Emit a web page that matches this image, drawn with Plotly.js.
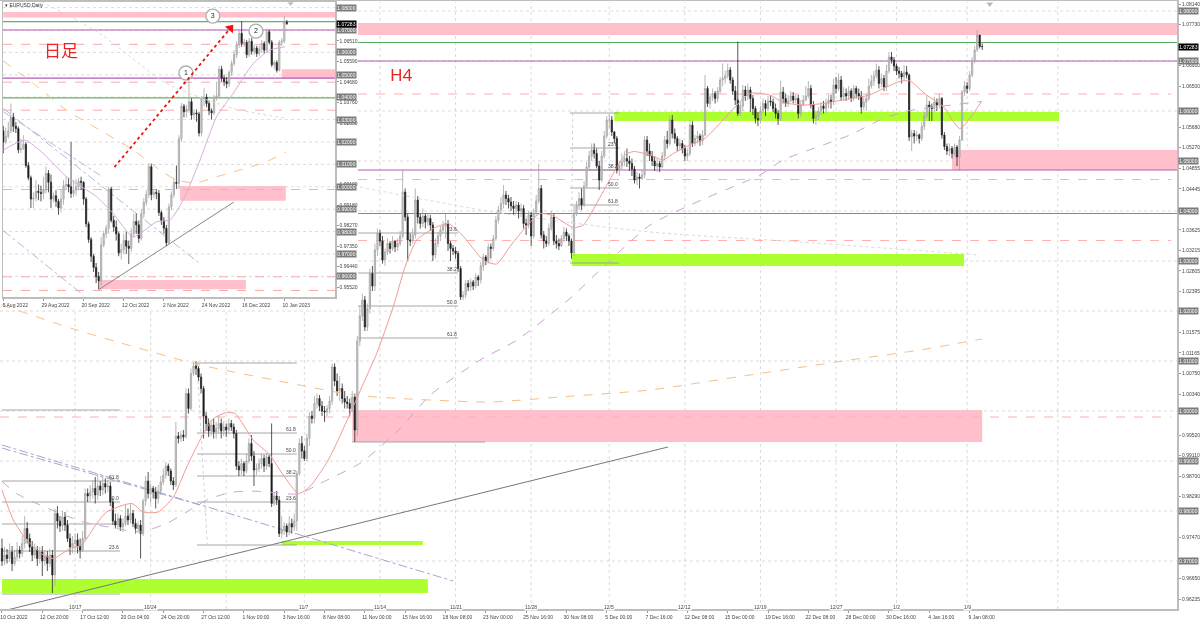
<!DOCTYPE html>
<html><head><meta charset="utf-8">
<script src="https://cdn.plot.ly/plotly-3.0.1.min.js"></script>
<style>html,body{margin:0;padding:0;background:#fff}#g{width:1200px;height:619px;filter:blur(0.35px)}</style></head>
<body><div id="g"></div>
<script>
// ---- H4 candles (prices in 1/10000) ----
const h4Close=[9700,9712,9705,9718,9695,9708,9722,9715,9735,9765,
9745,9728,9712,9722,9705,9718,9700,9710,9695,9712,
9672,9795,9780,9770,9788,9772,9745,9728,9735,9742,
9730,9722,9745,9835,9830,9838,9845,9832,9850,9842,
9855,9848,9850,9818,9780,9772,9785,9768,9775,9790,
9782,9795,9775,9765,9772,9755,9820,9860,9835,9845,
9838,9825,9840,9858,9872,9890,9880,9860,9852,9950,
9945,9952,9948,10035,10005,10075,10090,10085,10068,10045,
9990,9975,9960,9972,9958,9965,9975,9960,9968,9962,
9975,9968,9955,9890,9882,9895,9880,9900,9935,9910,
9882,9885,9895,9905,9890,9908,9895,9815,9830,9822,
9755,9762,9770,9758,9775,9768,9780,9875,9935,9920,
9905,9945,9990,9985,10015,10025,10010,10000,9998,10005,
10020,10088,10060,10040,10045,10025,10018,10015,10005,10028,
9962,10140,10190,10222,10168,10205,10275,10250,10322,10355,
10340,10302,10318,10335,10325,10340,10328,10335,10350,10438,
10388,10342,10340,10352,10422,10388,10375,10390,10378,10385,
10372,10312,10335,10350,10362,10370,10375,10335,10325,10320,
10315,10285,10228,10232,10255,10248,10258,10250,10268,10262,
10290,10308,10300,10328,10325,10345,10382,10402,10415,10432,
10425,10418,10410,10405,10412,10400,10405,10375,10372,10392,
10350,10395,10420,10445,10352,10340,10335,10365,10388,10340,
10335,10330,10345,10358,10350,10340,10316,10395,10410,10425,
10412,10450,10488,10510,10522,10515,10490,10462,10510,10550,
10582,10582,10558,10545,10482,10490,10498,10505,10500,10495,
10484,10462,10468,10465,10472,10542,10520,10510,10500,10490,
10495,10488,10510,10542,10535,10582,10555,10545,10530,10535,
10525,10510,10515,10572,10535,10545,10550,10540,10552,10645,
10615,10628,10635,10625,10640,10662,10665,10670,10682,10662,
10640,10622,10595,10610,10642,10630,10642,10625,10605,10585,
10582,10600,10615,10605,10620,10618,10605,10595,10585,10638,
10625,10615,10620,10630,10622,10625,10595,10612,10622,10630,
10645,10612,10585,10590,10600,10610,10605,10615,10622,10618,
10652,10645,10662,10628,10635,10630,10640,10625,10645,10635,
10630,10608,10618,10625,10650,10660,10670,10682,10655,10665,
10648,10680,10708,10702,10690,10680,10675,10668,10678,10672,
10548,10555,10550,10552,10545,10569,10590,10612,10608,10605,
10618,10612,10625,10552,10529,10520,10525,10515,10528,10508,
10542,10638,10650,10645,10672,10700,10722,10752,10729,10729];
const h4Open=[9725,9700,9712,9705,9718,9695,9708,9722,9715,9735,
9765,9745,9728,9712,9722,9705,9718,9700,9710,9695,
9712,9672,9795,9780,9770,9788,9772,9745,9728,9735,
9742,9730,9722,9745,9835,9830,9838,9845,9832,9850,
9842,9855,9848,9850,9818,9780,9772,9785,9768,9775,
9790,9782,9795,9775,9765,9772,9755,9820,9860,9835,
9845,9838,9825,9840,9858,9872,9890,9880,9860,9852,
9950,9945,9952,9948,10035,10005,10075,10090,10085,10068,
10045,9990,9975,9960,9972,9958,9965,9975,9960,9968,
9962,9975,9968,9955,9890,9882,9895,9880,9900,9935,
9910,9882,9885,9895,9905,9890,9908,9895,9815,9830,
9822,9755,9762,9770,9758,9775,9768,9780,9875,9935,
9920,9905,9945,9990,9985,10015,10025,10010,10000,9998,
10005,10020,10088,10060,10040,10045,10025,10018,10015,10005,
10028,9962,10140,10190,10222,10168,10205,10275,10250,10322,
10355,10340,10302,10318,10335,10325,10340,10328,10335,10350,
10438,10388,10342,10340,10352,10422,10388,10375,10390,10378,
10385,10372,10312,10335,10350,10362,10370,10375,10335,10325,
10320,10315,10285,10228,10232,10255,10248,10258,10250,10268,
10262,10290,10308,10300,10328,10325,10345,10382,10402,10415,
10432,10425,10418,10410,10405,10412,10400,10405,10375,10372,
10392,10350,10395,10420,10445,10352,10340,10335,10365,10388,
10340,10335,10330,10345,10358,10350,10340,10316,10395,10410,
10425,10412,10450,10488,10510,10522,10515,10490,10462,10510,
10550,10582,10582,10558,10545,10482,10490,10498,10505,10500,
10495,10484,10462,10468,10465,10472,10542,10520,10510,10500,
10490,10495,10488,10510,10542,10535,10582,10555,10545,10530,
10535,10525,10510,10515,10572,10535,10545,10550,10540,10552,
10645,10615,10628,10635,10625,10640,10662,10665,10670,10682,
10662,10640,10622,10595,10610,10642,10630,10642,10625,10605,
10585,10582,10600,10615,10605,10620,10618,10605,10595,10585,
10638,10625,10615,10620,10630,10622,10625,10595,10612,10622,
10630,10645,10612,10585,10590,10600,10610,10605,10615,10622,
10618,10652,10645,10662,10628,10635,10630,10640,10625,10645,
10635,10630,10608,10618,10625,10650,10660,10670,10682,10655,
10665,10648,10680,10708,10702,10690,10680,10675,10668,10678,
10672,10548,10555,10550,10552,10545,10569,10590,10612,10608,
10605,10618,10612,10625,10552,10529,10520,10525,10515,10528,
10508,10542,10638,10650,10645,10672,10700,10722,10752,10729];
const h4High=[9745,9728,9724,9735,9730,9722,9738,9730,9750,9790,
9778,9755,9740,9735,9730,9728,9730,9722,9720,9725,
9722,9805,9810,9790,9800,9798,9782,9755,9750,9755,
9755,9745,9760,9845,9845,9852,9862,9868,9875,9860,
9872,9865,9862,9858,9825,9795,9795,9792,9785,9812,
9805,9815,9802,9785,9780,9782,9825,9870,9878,9855,
9850,9848,9852,9870,9885,9898,9895,9885,9868,9978,
9958,9960,9962,10045,10045,10085,10098,10100,10090,10075,
10050,9998,9985,9982,9985,9978,9990,9985,9980,9975,
9985,9982,9975,9962,9900,9905,9900,9915,9945,9952,
9920,9895,9905,9915,9912,9915,9912,9975,9838,9840,
9830,9790,9778,9775,9790,9785,9795,9880,9945,9950,
9930,9955,9998,10000,10030,10035,10032,10020,10010,10012,
10030,10095,10095,10075,10070,10055,10040,10030,10025,10040,
10035,10150,10210,10235,10230,10215,10285,10290,10335,10365,
10362,10350,10325,10345,10340,10350,10340,10345,10360,10482,
10445,10395,10355,10365,10445,10430,10395,10405,10395,10395,
10392,10378,10345,10358,10370,10380,10395,10382,10340,10332,
10328,10320,10290,10240,10262,10262,10265,10262,10275,10272,
10298,10315,10312,10335,10335,10352,10390,10410,10428,10452,
10440,10432,10428,10420,10420,10418,10415,10412,10385,10400,
10398,10405,10432,10495,10452,10360,10350,10375,10400,10395,
10352,10345,10352,10368,10365,10355,10345,10410,10420,10438,
10445,10460,10498,10520,10535,10535,10525,10500,10520,10560,
10590,10595,10590,10560,10550,10500,10515,10520,10525,10510,
10505,10490,10478,10475,10482,10550,10550,10535,10520,10510,
10505,10500,10518,10550,10560,10590,10592,10565,10550,10545,
10542,10532,10525,10582,10580,10552,10560,10555,10562,10672,
10650,10635,10645,10640,10648,10668,10695,10680,10695,10688,
10668,10650,10739,10620,10652,10650,10655,10648,10632,10610,
10598,10610,10625,10622,10630,10632,10625,10615,10602,10660,
10648,10635,10632,10640,10638,10632,10632,10622,10632,10650,
10660,10652,10620,10600,10608,10618,10620,10625,10632,10632,
10665,10668,10675,10670,10648,10645,10650,10645,10652,10650,
10645,10640,10628,10635,10665,10672,10680,10695,10690,10675,
10672,10692,10718,10718,10708,10695,10688,10680,10692,10690,
10675,10562,10562,10560,10555,10578,10598,10632,10620,10615,
10628,10625,10635,10628,10558,10535,10535,10530,10535,10532,
10550,10642,10660,10658,10680,10708,10730,10762,10752,10735];
const h4Low=[9690,9692,9695,9698,9680,9690,9700,9705,9708,9725,
9735,9718,9700,9705,9690,9695,9670,9690,9680,9688,
9636,9650,9765,9758,9760,9760,9738,9712,9715,9722,
9715,9705,9718,9740,9818,9820,9825,9815,9822,9830,
9832,9835,9838,9810,9772,9765,9765,9760,9758,9770,
9772,9775,9768,9755,9758,9705,9750,9810,9825,9815,
9825,9805,9815,9832,9852,9865,9870,9852,9842,9848,
9935,9938,9940,9945,9995,10000,10070,10072,10060,10035,
9945,9960,9948,9950,9945,9945,9955,9945,9950,9948,
9955,9960,9945,9882,9870,9872,9870,9875,9895,9900,
9850,9872,9878,9885,9878,9882,9888,9808,9810,9812,
9748,9745,9752,9748,9752,9755,9760,9760,9870,9905,
9900,9900,9930,9975,9975,10005,10000,9990,9978,9990,
9995,10012,10050,10030,10020,10015,10005,10005,9990,9998,
9938,9950,10130,10180,10160,10160,10195,10240,10240,10310,
10330,10295,10290,10312,10315,10320,10318,10320,10330,10345,
10380,10300,10330,10335,10345,10375,10365,10368,10365,10370,
10360,10300,10305,10328,10340,10355,10345,10320,10300,10312,
10305,10278,10222,10222,10225,10240,10240,10242,10245,10250,
10255,10280,10292,10295,10305,10320,10340,10375,10395,10405,
10412,10405,10400,10392,10395,10385,10388,10365,10352,10365,
10330,10345,10390,10415,10345,10325,10328,10330,10360,10332,
10325,10322,10328,10338,10340,10330,10305,10310,10390,10402,
10402,10408,10445,10480,10500,10505,10485,10442,10458,10505,
10545,10565,10550,10535,10475,10470,10482,10490,10488,10480,
10470,10455,10452,10445,10462,10465,10510,10500,10490,10480,
10478,10478,10485,10502,10525,10530,10545,10535,10520,10522,
10515,10500,10500,10510,10528,10530,10535,10530,10532,10550,
10608,10605,10620,10615,10618,10635,10650,10655,10665,10655,
10632,10612,10590,10590,10600,10620,10622,10598,10592,10575,
10570,10575,10595,10590,10600,10610,10598,10585,10572,10580,
10615,10608,10608,10618,10615,10615,10585,10588,10610,10620,
10625,10605,10575,10572,10582,10592,10595,10595,10605,10605,
10612,10635,10640,10620,10620,10620,10622,10618,10620,10625,
10622,10595,10602,10600,10620,10645,10650,10665,10645,10648,
10640,10640,10675,10695,10680,10672,10665,10655,10660,10665,
10540,10520,10535,10540,10535,10540,10562,10585,10580,10580,
10598,10600,10605,10545,10522,10512,10510,10505,10510,10490,
10480,10540,10630,10635,10640,10668,10695,10718,10725,10722];
// ---- Daily candles ----
const d1Close=[10200,10225,10250,10310,10270,10260,10165,10170,10190,10095,
10040,9945,9950,9980,9975,9970,9985,10060,10020,9945,
9960,9935,9905,9945,10005,10010,10000,9970,9985,10000,
10025,10020,9945,9835,9765,9690,9640,9600,9580,9740,
9790,9815,9990,9850,9820,9790,9705,9720,9760,9735,
9725,9790,9845,9830,9770,9880,9930,9965,10090,9965,
9975,9970,9885,9850,9815,9750,9910,9965,10020,10015,
10215,10360,10335,10345,10380,10320,10330,10325,10240,10395,
10400,10372,10340,10330,10400,10405,10525,10485,10470,10460,
10510,10550,10590,10635,10685,10640,10645,10590,10650,10605,
10620,10595,10615,10640,10610,10692,10645,10545,10555,10520,
10645,10650,10735,10729];
const d1Open=[10250,10200,10225,10250,10310,10270,10260,10165,10170,10190,
10095,10040,9945,9950,9980,9975,9970,9985,10060,10020,
9945,9960,9935,9905,9945,10005,10010,10000,9970,9985,
10000,10025,10020,9945,9835,9765,9690,9640,9600,9580,
9740,9790,9815,9990,9850,9820,9790,9705,9720,9760,
9735,9725,9790,9845,9830,9770,9880,9930,9965,10090,
9965,9975,9970,9885,9850,9815,9750,9910,9965,10020,
10015,10215,10360,10335,10345,10380,10320,10330,10325,10240,
10395,10400,10372,10340,10330,10400,10405,10525,10485,10470,
10460,10510,10550,10590,10635,10685,10640,10645,10590,10650,
10605,10620,10595,10615,10640,10610,10692,10645,10545,10555,
10520,10645,10650,10735];
const d1High=[10272,10265,10290,10372,10330,10290,10270,10215,10230,10200,
10110,10050,9975,10030,10010,10005,10045,10090,10075,10055,
9975,9985,9945,9985,10030,10045,10040,10200,10030,10035,
10040,10045,10025,9955,9845,9775,9700,9660,9620,9775,
9805,9830,10000,10000,9870,9850,9800,9745,9790,9800,
9760,9815,9880,9880,9850,9900,9950,9985,10105,10105,
9990,9990,9985,9895,9865,9830,9925,9980,10040,10095,
10230,10375,10370,10365,10480,10395,10345,10345,10335,10405,
10440,10415,10385,10350,10410,10470,10540,10540,10500,10490,
10520,10565,10610,10650,10700,10740,10660,10655,10665,10665,
10635,10630,10630,10655,10650,10705,10700,10655,10565,10565,
10655,10665,10762,10745];
const d1Low=[10150,10190,10215,10240,10245,10240,10150,10150,10165,10085,
10030,9905,9905,9935,9940,9935,9945,9970,9975,9905,
9930,9910,9875,9885,9920,9985,9975,9950,9955,9960,
9985,9985,9920,9820,9750,9665,9620,9570,9542,9560,
9730,9770,9790,9840,9800,9760,9690,9675,9700,9700,
9655,9710,9775,9790,9750,9760,9860,9915,9950,9940,
9950,9945,9870,9830,9790,9735,9740,9895,9950,9990,
9990,10200,10310,10310,10330,10300,10300,10290,10225,10225,
10360,10355,10320,10300,10320,10385,10395,10470,10450,10440,
10445,10495,10540,10575,10620,10625,10625,10575,10580,10590,
10590,10580,10585,10600,10595,10600,10635,10535,10525,10510,
10515,10630,10640,10722];
// ---- Moving averages: [bar, price] read at points ----
const h4RedBars=[0,4.5,9.8,16.4,20.4,27,31.6,37.6,41.5,51.5,56,62,68,73.3,78.6,83.9,89.2,92.5,99.7,106.3,111.6,117.6,122.2,129.5,139.4,143.4,148.7,155.3,160,164.6,171.2,177.1,183.1,191,196.3,201.6,206.9,213.5,218.8,226.7,230.7,236.7,242.6,247.2,250.6,257.2,262.4,266.4,274.3,278.9,286.2,296.8,304.7,310,318,325.9,336.5,344.4,349.7,356.3,360.3,366.9,373.5,380.1,388.7];
const h4RedVals=[9842,9782,9742,9712,9705,9725,9732,9775,9798,9815,9798,9798,9828,9888,9942,9985,9997,9995,9942,9912,9872,9835,9849,9902,10009,10055,10115,10209,10289,10342,10365,10375,10349,10302,10294,10329,10362,10395,10390,10367,10372,10422,10475,10512,10519,10512,10502,10515,10535,10545,10582,10635,10632,10617,10612,10615,10625,10632,10645,10659,10660,10632,10609,10565,10619];
const h4PurpleBars=[0,5.8,12.4,21.7,32.3,45.5,54.8,65.3,73.3,81.2,90.5,98.4,107.7,117.6,126.2,142,148.7,158,170,189.7,204.4,225.4,240,257.2,277.6,300.8,310,325.9,336.5,349.7,360.3,373.5,388.7];
const h4PurpleVals=[9859,9835,9818,9798,9778,9765,9758,9775,9798,9822,9837,9840,9837,9834,9855,9895,9922,9965,10032,10102,10142,10225,10295,10372,10422,10472,10502,10532,10552,10585,10601,10610,10619];
const h4OrangeBars=[0,5.8,29.6,52,77,118,139.4,157.9,193.7,221.4,257,296.8,336.5,364.3,388.9];
const h4OrangeVals=[10212,10202,10162,10129,10094,10052,10032,10025,10018,10028,10042,10072,10102,10122,10144];
const h4GrayBars=[142,194.8,257,316.7,388];
const h4GrayVals=[10448,10398,10358,10338,10312];
const d1PurpleBars=[0,8.6,15.9,25.2,37.2,43.8,51.8,61.1,66.4,71.7,78.4,85,91.6,99.6,106.2,112.2];
const d1PurpleVals=[10164,10208,10149,10045,9956,9881,9777,9844,9852,9941,10119,10313,10417,10550,10610,10625];
const d1OrangeBars=[0,12,25.2,38.5,51.8,62.4,69,77,85,94.3,104.9,112.6];
const d1OrangeVals=[10562,10461,10342,10253,10164,10075,10030,10018,10045,10075,10112,10156];
const d1GrayBars=[15.3,38.5,65,91.6,112.9];
const d1GrayVals=[10826,10684,10461,10350,10305];
// ---- Axis labels ----
const h4TickLabels=["10 Oct 2022","12 Oct 20:00","17 Oct 12:00","20 Oct 04:00","24 Oct 20:00","27 Oct 12:00","1 Nov 00:00","3 Nov 16:00","8 Nov 08:00","11 Nov 00:00","15 Nov 16:00","18 Nov 08:00","23 Nov 00:00","25 Nov 16:00","30 Nov 08:00","5 Dec 00:00","7 Dec 16:00","12 Dec 08:00","15 Dec 00:00","19 Dec 16:00","22 Dec 08:00","28 Dec 00:00","30 Dec 16:00","4 Jan 16:00","9 Jan 08:00"];
const d1TickLabels=["5 Aug 2022","29 Aug 2022","20 Sep 2022","12 Oct 2022","2 Nov 2022","24 Nov 2022","16 Dec 2022","10 Jan 2023"];
const h4PriceTicks=[1.0814,1.0773,1.0691,1.065,1.0568,1.0527,1.04855,1.04445,1.03625,1.03215,1.02805,1.02395,1.01575,1.01165,1.0075,1.0034,0.9952,0.9911,0.987,0.9829,0.9747,0.9665,0.96235];
const d1PriceTicks=[1.0651,1.0559,1.0468,1.0376,1.0285,1.001,0.9918,0.9827,0.9735,0.9644,0.9552];
const h4RoundLevels=[1.08,1.07,1.06,1.05,1.04,1.03,1.02,1.01,1,0.99,0.98,0.97];
const d1RoundLevels=[1.08,1.07,1.06,1.05,1.04,1.03,1.02,1.01,1,0.99,0.98,0.97,0.96];
const lastPrice=1.07283;
const weekBars=[29,59,89,120,150,180,210,241,271,301,331,355,383];
const weekLabels=["10/17","10/24","","11/7","11/14","11/21","11/28","12/5","12/12","12/19","12/27","1/2","1/9"];
const extraWeekBar=419;
// ---- Drawn levels and zones ----
const pinkH4=[[141.3,466.3,1.0776,1.0752],[377,466.3,1.0522,1.0482],[139,389,1.0002,0.9938]];
const greenH4=[[243,419.5,1.0598,1.058],[226.2,381.8,1.0314,1.029],[111,167,0.974,0.9732],[0,169,0.9664,0.9636]];
const pinkD1=[[0,132.2,1.078,1.0756],[111,132.2,1.0525,1.0485],[70.4,112.6,1.0003,0.9938],[38.2,96.7,0.9584,0.9543]];
const greenLevelsH4=[1.0737,1.0395], purpleLevelsH4=[1.07,1.0482], redLevelsH4=[1.0634,1.0463,1.0341];
const greenLevelsD1=[1.0737,1.0397], purpleLevelsD1=[1.07,1.0485], redLevelsD1=[1.0636,1.0467,1.0342,0.9988,0.9598,0.9537];
const redLowH4=0.9988;
const fibSets=[
 {a:0,b:46.8,lv:[1.0002,0.986,0.9818,0.9774,0.972,0.9634],tx:["","61.8","50.0","","23.6",""]},
 {a:77.4,b:117,lv:[1.0096,0.9956,0.9914,0.987,0.9818,0.9732],tx:["","61.8","50.0","38.2","23.6",""]},
 {a:141.3,b:181,lv:[1.0356,1.0276,1.021,1.0146],tx:["23.6","38.2","50.0","61.8"]},
 {a:225.4,b:245,lv:[1.0596,1.0526,1.0482,1.0446,1.0412,1.0296],tx:["","23.6","38.2","50.0","61.8",""]}];
const fibLowC=[139,191.7,0.9938];
const h4Trend=[2,264.3,0.9602,0.9928];
const h4Channel=[[0,179,0.9932,0.966],[0,78.6,0.9926,0.9812]];
const d1Trend=[38.2,91.9,0.9542,0.9932];
const d1Channel=[[0,77.7,1.035,0.9663],[0,38.5,1.0335,1.0052],[0,31.9,0.9804,0.9517]];
const d1Arrow=[44.3,90.5,1.0088,1.0708];
const badgeBars=[72.8,100.7,83.5], badgeVals=[1.0508,1.0695,1.0762], badgeText=["1","2","3"];

const F="Liberation Sans, Arial, sans-serif";
const P=a=>a.map(v=>v/10000);
const idx=a=>a.map((_,i)=>i);
const stepTicks=(labels)=>labels.map((_,i)=>i*16);
const X0=-0.79,X1=466.3,D0=-0.12,D1=132.2;

function candle(o,h,l,c,xa,ya){return {type:'candlestick',x:idx(o),open:P(o),high:P(h),low:P(l),close:P(c),xaxis:xa,yaxis:ya,
 increasing:{line:{color:'#a4a4a4',width:0.8},fillcolor:'#cdcdcd'},decreasing:{line:{color:'#2a2a2a',width:0.8},fillcolor:'#0c0c0c'},whiskerwidth:0,hoverinfo:'skip',showlegend:false};}
function ma(xs,ys,color,dash,w,xa,ya){return {type:'scatter',mode:'lines',x:xs,y:P(ys),xaxis:xa,yaxis:ya,line:{color,dash,width:w,shape:'spline',smoothing:0.6},hoverinfo:'skip',showlegend:false};}

const traces=[
 candle(h4Open,h4High,h4Low,h4Close,'x','y'),
 ma(h4OrangeBars,h4OrangeVals,'#f5bf85','dash',1,'x','y'),
 ma(h4GrayBars,h4GrayVals,'#d9d9d9','dot',1,'x','y'),
 ma(h4PurpleBars,h4PurpleVals,'#cfa0d8','dash',1,'x','y'),
 ma(h4RedBars,h4RedVals,'#f29a94','solid',1,'x','y'),
 candle(d1Open,d1High,d1Low,d1Close,'x2','y2'),
 ma(d1OrangeBars,d1OrangeVals,'#f5bf85','dash',1,'x2','y2'),
 ma(d1GrayBars,d1GrayVals,'#d9d9d9','dot',1,'x2','y2'),
 ma(d1PurpleBars,d1PurpleVals,'#d6aede','solid',1,'x2','y2'),
 {type:'scatter',mode:'markers',x:[d1Arrow[1]],y:[d1Arrow[3]],xaxis:'x2',yaxis:'y2',marker:{symbol:'triangle-up',angle:40,size:9,color:'#ee1111'},hoverinfo:'skip',showlegend:false},
 {type:'scatter',mode:'markers+text',x:badgeBars,y:badgeVals,text:badgeText,textposition:'middle center',textfont:{family:F,size:7,color:'#222'},xaxis:'x2',yaxis:'y2',marker:{size:14,color:'#fff',line:{color:'#b0b0b0',width:1.4}},hoverinfo:'skip',showlegend:false},
 {type:'scatter',mode:'markers',x:[392],y:[1.0814],xaxis:'x',yaxis:'y',marker:{symbol:'triangle-down',size:6,color:'#bbb'},hoverinfo:'skip',showlegend:false},
 {type:'scatter',mode:'markers',x:[114.5],y:[1.0818],xaxis:'x2',yaxis:'y2',marker:{symbol:'triangle-down',size:5,color:'#bbb'},hoverinfo:'skip',showlegend:false}
];

const shapes=[];
const seg=(xr,yr,x0,x1,y0,y1,color,dash,w)=>shapes.push({type:'line',xref:xr,yref:yr,x0,x1,y0,y1,layer:'below',line:{color,dash,width:w}});
const box=(xr,yr,z,color)=>shapes.push({type:'rect',xref:xr,yref:yr,x0:z[0],x1:z[1],y0:z[2],y1:z[3],layer:'below',line:{width:0},fillcolor:color});
const Gd='#d2d2d2';
h4RoundLevels.forEach(v=>seg('x','y',v>1.02?141.3:X0,X1,v,v,Gd,'dot',0.8));
weekBars.concat([extraWeekBar]).forEach(b=>seg('x','y',b,b,0.9604,b<135?1.02:1.0818,Gd,'dot',0.8));
pinkH4.forEach(z=>box('x','y',z,'#ffc0cb'));
greenH4.forEach(z=>box('x','y',z,'#adff2f'));
greenLevelsH4.forEach(v=>seg('x','y',141.3,X1,v,v,'#55aa55','solid',1));
purpleLevelsH4.forEach(v=>seg('x','y',141.3,X1,v,v,'#b45ab4','solid',1));
redLevelsH4.forEach(v=>seg('x','y',141.3,464,v,v,'#ffb0b0','dash',1.1));
seg('x','y',X0,464,redLowH4,redLowH4,'#ffb0b0','dash',1.1);
seg('x','y',h4Trend[0],h4Trend[1],h4Trend[2],h4Trend[3],'#777','solid',1);
h4Channel.forEach(c=>seg('x','y',c[0],c[1],c[2],c[3],'#a6a6d2','dashdot',1));
fibSets.forEach(s=>s.lv.forEach(v=>seg('x','y',s.a,s.b,v,v,'#9c9c9c','solid',0.9)));
seg('x','y',fibLowC[0],fibLowC[1],fibLowC[2],fibLowC[2],'#9c9c9c','solid',0.9);
seg('x','y',77.4,81.5,1.0096,0.9732,'#c6c6c6','dot',0.8);
seg('x','y',226.5,226,1.0596,1.0296,'#c6c6c6','dot',0.8);
d1RoundLevels.forEach(v=>seg('x2','y2',D0,D1,v,v,Gd,'dot',0.8));
pinkD1.forEach(z=>box('x2','y2',z,'#ffc0cb'));
greenLevelsD1.forEach(v=>seg('x2','y2',D0,D1,v,v,'#66b066','solid',1.2));
purpleLevelsD1.forEach(v=>seg('x2','y2',D0,D1,v,v,'#b45ab4','solid',1.2));
redLevelsD1.forEach(v=>seg('x2','y2',D0,D1,v,v,'#ffa8a8','dash',1));
seg('x2','y2',d1Trend[0],d1Trend[1],d1Trend[2],d1Trend[3],'#888','solid',1);
d1Channel.forEach(c=>seg('x2','y2',c[0],c[1],c[2],c[3],'#b8b8dc','dashdot',1));
shapes.push({type:'line',xref:'x2',yref:'y2',x0:d1Arrow[0],x1:d1Arrow[1],y0:d1Arrow[2],y1:d1Arrow[3],layer:'above',line:{color:'#ee1111',dash:'dot',width:1.8}});

const anns=[];
const boxLabel=(xr,xv,yr,val,bg)=>anns.push({xref:xr,x:xv,xanchor:'left',xshift:1,yref:yr,y:val,yanchor:'middle',text:val.toFixed(5),showarrow:false,font:{family:F,size:5,color:'#fff'},bgcolor:bg,borderpad:0,width:19,height:5.5,align:'center'});
const M=1177/1200, I=335/1200;
h4RoundLevels.forEach(v=>boxLabel('paper',M,'y',v,'#7c7c7c'));
boxLabel('paper',M,'y',lastPrice,'#000');
d1RoundLevels.forEach(v=>boxLabel('paper',I,'y2',v,'#7c7c7c'));
boxLabel('paper',I,'y2',lastPrice,'#000');
weekBars.forEach((b,i)=>{if(weekLabels[i])anns.push({xref:'x',x:b,yref:'y',y:0.9609,text:weekLabels[i],showarrow:false,font:{family:F,size:5,color:'#444'},bgcolor:'#fff',borderpad:0});});
fibSets.forEach(s=>s.lv.forEach((v,i)=>{if(s.tx[i])anns.push({xref:'x',x:s.b,xanchor:'right',yref:'y',y:v,yanchor:'bottom',text:s.tx[i],showarrow:false,font:{family:F,size:5,color:'#444'},borderpad:0});}));
const txt=(x,y,t,size,fam,color,xa)=>anns.push({xref:'paper',yref:'paper',x:x/1200,y:1-y/619,xanchor:xa,yanchor:'middle',text:t,showarrow:false,font:{family:fam,size,color},borderpad:0});
txt(61,50,'日足',17,'Noto Sans CJK JP','#ee2020','center');
txt(401,74,'H4',17,'Noto Sans','#ee2020','center');
txt(4,5,'▾ EURUSD,Daily',5,F,'#333','left');

const axisLine={showline:true,linecolor:'#bdbdbd',linewidth:2,mirror:true,showgrid:false,zeroline:false,ticks:'outside',ticklen:2,tickwidth:1,tickcolor:'#999',tickfont:{family:F,size:5,color:'#444'},tickmode:'array',fixedrange:true};
const layout={width:1200,height:619,margin:{l:0,r:0,t:0,b:0},autosize:false,paper_bgcolor:'#fff',plot_bgcolor:'#fff',showlegend:false,hovermode:false,
 xaxis:Object.assign({},axisLine,{domain:[0,M],range:[X0,X1],anchor:'y',tickvals:stepTicks(h4TickLabels),ticktext:h4TickLabels,ticklabelshift:12,rangeslider:{visible:false}}),
 yaxis:Object.assign({},axisLine,{domain:[1-609/619,1-1/619],range:[0.9604,1.082],anchor:'x',side:'right',tickvals:h4PriceTicks,ticktext:h4PriceTicks.map(v=>v.toFixed(5))}),
 xaxis2:Object.assign({},axisLine,{domain:[3/1200,I],range:[D0,D1],anchor:'y2',linewidth:1.5,tickvals:stepTicks(d1TickLabels),ticktext:d1TickLabels,ticklabelshift:12,rangeslider:{visible:false}}),
 yaxis2:Object.assign({},axisLine,{domain:[1-297/619,1-2/619],range:[0.9508,1.0825],anchor:'x2',side:'right',linewidth:1.5,tickvals:d1PriceTicks,ticktext:d1PriceTicks.map(v=>v.toFixed(5))}),
 shapes,annotations:anns};
Plotly.newPlot('g',traces,layout,{displayModeBar:false,staticPlot:true,responsive:false});
</script></body></html>
